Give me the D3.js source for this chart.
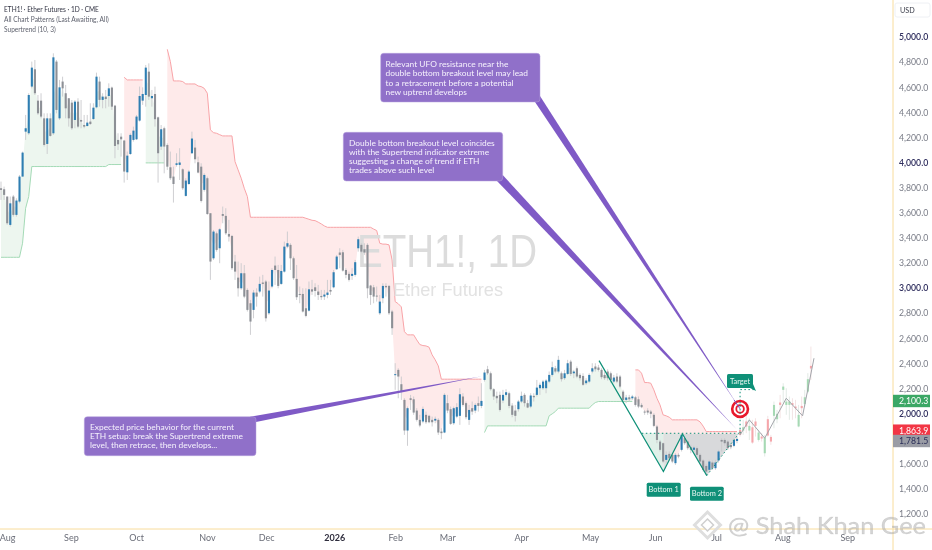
<!DOCTYPE html>
<html><head><meta charset="utf-8">
<script src="https://cdn.jsdelivr.net/npm/d3@7"></script>
<style>html,body{margin:0;padding:0;background:#fff;overflow:hidden}svg{display:block;filter:blur(.3px)}text{font-family:Lato,"Noto Sans",sans-serif}</style>
</head><body>
<svg id="c" width="932" height="550"></svg>
<script>
// ---------- DATA ----------
const barDirections="gggbgbbbbb"+"bggggbgbgb"+"ggggbgggbg"+"bbgbgbgggg"+"gbbbbbbbgb"+"ggbggggbbg"+"bbbgggbggb"+"gbggggggbg"+"ggbgbggbbg"+"gbbbgggggg"+"bggggbbgbb"+"ggggbbbggg"+"gggbbgggbg"+"ggbggggbgg"+"gbggbggbbb"+"ggbgbgbbgg"+"gggbbgggbb"+"ggbgbbbbbb"+"gbgbbgbggg"+"bbbggggggb"+"gggbgbgggg"+"ggggggbggb"+"gbgggbgggg"+"bgbbggggbb";
const bodyTops=[3795,3787,3729,3675,3729,3697,3888,4079,4273,4538,
4756,4743,4493,4493,4352,4352,4352,4838,4804,4599,
4645,4552,4512,4477,4485,4485,4339,4299,4318,4326,
4437,4684,4645,4525,4525,4591,4597,4453,4180,4206,
4175,4055,4220,4254,4366,4530,4546,4756,4724,4530,
4546,4360,4265,4273,4140,3962,3888,3994,4000,3946,
3856,3928,4191,4119,4002,3967,3901,3875,3596,3450,
3436,3468,3590,3575,3431,3415,3211,3083,3118,3118,
2985,2879,2964,2964,3033,3044,3052,2980,3144,3179,
3144,3136,3330,3357,3344,3237,3073,2953,2953,2839,
2990,2990,3006,2972,2937,2948,2964,2985,3126,3251,
3283,3285,3144,3113,3113,3206,3389,3344,3309,3344,
3020,3006,2940,2892,3017,3017,3017,2813,2314,2348,
2234,2109,2043,2122,2114,2024,1950,2037,1990,1982,
1950,1958,1950,1857,2149,2083,2035,2043,2051,2154,
2136,2083,2029,2043,2069,2083,2101,2327,2353,2321,
2194,2141,2149,2149,2170,2162,2064,2024,2096,2141,
2149,2083,2144,2141,2207,2229,2255,2263,2308,2369,
2361,2428,2321,2321,2401,2414,2335,2361,2308,2300,
2263,2308,2361,2375,2367,2348,2308,2335,2321,2287,
2295,2295,2175,2128,2130,2136,2130,2114,2069,2016,
2024,2016,1990,1897,1777,1764,1671,1679,1671,1671,
1671,1830,1804,1777,1732,1729,1724,1671,1626,1583,
1618,1610,1610,1698,1790,1790,1777,1751,1790,1798];
const bodyBottoms=[3782,3742,3516,3503,3583,3583,3689,3888,4246,4233,
4605,4552,4392,4366,4140,4148,4212,4233,4419,4352,
4591,4432,4352,4273,4339,4286,4326,4286,4291,4307,
4347,4440,4499,4499,4506,4530,4445,4132,4145,4185,
3928,3922,4068,4180,4185,4334,4493,4538,4525,4512,
4345,4074,4127,4127,3967,3875,3829,3981,3981,3795,
3734,3829,4074,4026,3920,3694,3782,3590,3211,3237,
3304,3317,3575,3436,3410,3158,3131,2998,2998,2932,
2826,2733,2826,2932,2972,3033,2759,2799,3012,3144,
3017,3033,3131,3330,3237,3078,2927,2945,2813,2778,
2820,2972,2977,2945,2927,2932,2945,2972,3006,3150,
3264,3139,3105,3065,3097,3105,3317,3290,3283,2998,
2945,2932,2932,2799,2919,3006,2799,2680,2306,2295,
2175,1865,1865,2109,2008,1950,1905,1937,1931,1931,
1931,1944,1849,1844,1849,2024,1918,1923,1976,1982,
2069,1971,1950,2016,2024,2061,2061,2268,2321,2194,
2136,2122,2029,2104,2149,2061,1990,1982,2035,2096,
2083,2048,2056,2130,2149,2202,2202,2202,2255,2308,
2335,2335,2274,2282,2316,2316,2321,2295,2282,2229,
2242,2255,2335,2353,2348,2290,2282,2282,2268,2255,
2255,2215,2109,2109,2114,2122,2069,2056,2051,2008,
2008,1998,1902,1790,1711,1618,1631,1644,1618,1605,
1658,1711,1764,1724,1711,1711,1671,1618,1552,1538,
1552,1565,1565,1626,1777,1764,1724,1732,1743,1782];
const wickHighs=[3848,3808,3729,3729,3742,3715,3901,4087,4379,4552,
4804,4817,4538,4552,4392,4392,4392,4870,4817,4658,
4684,4618,4512,4498,4498,4512,4498,4379,4379,4472,
4472,4716,4684,4552,4578,4631,4605,4459,4233,4233,
4180,4087,4233,4286,4379,4605,4599,4777,4790,4578,
4605,4366,4299,4286,4153,4087,3967,4074,4114,3954,
3875,3941,4246,4180,4047,3994,3914,3888,3596,3463,
3450,3476,3649,3636,3543,3423,3264,3211,3198,3184,
2998,2905,2985,2998,3091,3105,3065,3052,3158,3251,
3184,3184,3370,3450,3357,3251,3184,3012,2998,2998,
3052,3065,3038,3025,2985,2985,3065,3065,3144,3264,
3317,3304,3158,3131,3158,3224,3410,3357,3357,3357,
3025,3025,3012,2945,3038,3038,3025,2826,2401,2361,
2295,2122,2056,2149,2136,2043,1990,2056,2016,1990,
1976,1976,1963,1883,2162,2149,2056,2056,2083,2202,
2162,2096,2069,2096,2083,2136,2242,2348,2380,2335,
2202,2175,2175,2189,2194,2175,2083,2069,2109,2175,
2162,2109,2162,2162,2268,2247,2268,2274,2335,2414,
2380,2460,2335,2348,2428,2428,2348,2375,2321,2321,
2282,2321,2401,2401,2388,2361,2335,2353,2335,2308,
2321,2308,2189,2149,2149,2149,2141,2136,2083,2029,
2043,2029,2003,1910,1790,1769,1698,1698,1684,1684,
1684,1844,1817,1790,1751,1743,1737,1684,1637,1599,
1631,1626,1631,1711,1804,1804,1790,1764,1804,1817];
const wickLows=[3702,3702,3503,3490,3569,3569,3675,3888,4180,4220,
4591,4538,4379,4352,4127,4068,4206,4220,4392,4339,
4525,4352,4286,4260,4273,4273,4273,4273,4286,4299,
4339,4432,4445,4432,4432,4445,4419,4034,4100,4047,
3840,3861,4060,4167,4180,4326,4459,4445,4499,4445,
4286,3840,4100,3914,3941,3861,3681,3967,3861,3782,
3729,3821,4068,3994,3914,3681,3768,3583,3065,3224,
3290,3198,3516,3423,3370,3144,3065,2932,2985,2919,
2813,2627,2759,2852,2959,2932,2733,2786,2998,3025,
2998,3025,3123,3317,3144,3065,2905,2879,2805,2767,
2813,2945,2932,2905,2905,2905,2919,2945,2998,3144,
3158,3131,3078,3052,3065,3091,3290,3277,3264,2919,
2866,2879,2892,2786,2879,2932,2786,2627,2189,2122,
2109,1830,1743,2029,1990,1937,1891,1923,1918,1923,
1897,1923,1830,1796,1844,2003,1910,1910,1963,1910,
2056,1955,1910,1990,2003,2016,2043,2255,2308,2183,
2109,2083,2016,2083,2136,2043,1971,1937,2016,2083,
2056,2043,2043,2096,2136,2149,2189,2162,2242,2295,
2321,2321,2255,2268,2308,2300,2282,2282,2263,2221,
2229,2242,2321,2335,2335,2274,2268,2263,2247,2242,
2242,2202,2083,2083,2096,2109,2056,2043,2043,1990,
1990,1963,1891,1764,1698,1605,1605,1631,1605,1591,
1644,1698,1751,1711,1684,1698,1658,1605,1538,1512,
1538,1552,1552,1610,1698,1743,1711,1716,1732,1764];

// projected candles after the last real bar
const projectedTops=[1870,1891,1937,1902,1891,1937,1849,1817,1809,1955,1814,2069,1998,2088,2215,2096,2096,2083,2056,1990,2061,2130,2274,2380];
const projectedBottoms=[1830,1865,1897,1865,1769,1902,1790,1801,1684,1825,1777,1982,1955,2069,2189,2069,2069,2069,2043,1897,2043,2077,2175,2359];
const projectedHighs=[1891,1950,1990,1963,1950,1963,1870,1844,1830,1982,1830,2096,2029,2149,2242,2202,2136,2122,2109,2069,2136,2189,2322,2534];
const projectedLows=[1817,1830,1844,1790,1759,1817,1777,1777,1658,1817,1751,1883,1923,1963,2083,1990,1950,1950,1963,1891,1963,2056,2162,2268];
const projectedColors="rgrgrrgrgrrggrgggrrgrggr";

// supertrend segments: first bar, per-bar level
const stGreen1Start=0, stGreen1=[3245,3245,3245,3245,3245,3245,3245,3357,3636,3729,3968,3968,3968,3968,3968,3968,3968,3968,3968,3968,3968,3968,3968,3968,3968,3968,3968,3968,3968,3968,3968,3968,3968,3968,3968,3984,3984,3984,3984,3984];
const stRed1Start=40, stRed1=[4679,4658,4658,4658,4658,4658,4658];
const stGreen2Start=47, stGreen2=[3997,3997,3997,3997,3997,3997,3997];
const stRed2Start=54, stRed2=[4902,4804,4650,4650,4650,4645,4626,4626,4626,4626,4610,4605,4591,4552,4260,4238,4233,4222,4212,4212,4212,4212,4007,3941,3875,3795,3729,
3564,3564,3564,3564,3564,3564,3564,3564,3564,3564,3564,3564,3564,3564,3564,3564,3564,3564,3556,3548,3540,3537,3525,3511,3495,
3484,3484,3484,3484,3484,3484,3484,3484,3484,3484,3484,3484,3484,3484,3484,3470,3458,3357,3350,3350,3344,3224,2892,2875,2850,2653,2627,2627,2627,2587,2550,2542,2539,2529,2468,2428,2380,2274,
2274,2274,2274,2274,2274,2274,2274,2274,2274,2274,2274,2274,2274];
const stGreen3Start=157, stGreen3=[1849,1902,1902,1902,1902,1902,1902,1902,1902,1902,1902,1902,1902,1902,1902,1902,1902,1902,1902,1902,1902,1982,1998,2016,2043,2043,2043,2043,2043,2043,2043,2043,2043,2043,2043,2069,2088,2096,2096,2096,2096,2096,2096,2096,2096,2096,2096,2096,2096];
const stRed3Start=206, stRed3=[2348,2348,2322,2247,2247,2242,2189,2122,2069,1990,1982,1971,1950,1950,1950,1950,1950,1950,1950,1950,1950,1934,1900,1857,1857,1857,1857,1857,1857,1857,1857,1857,1857,1857];

// projected path and double-bottom pattern (bar index, price)
const projectionBars=[240,243,248,255,260.3,264], projectionPrices=[1830,1950,1804,2122,1982,2441];
const patternBars=[194.2,215.1,221.3,229.2,239.5], patternPrices=[2422,1538,1838,1506,1838];
const necklineBars=[208.1,239.6], necklinePrices=[1843,1843];
const targetBar=240, targetPrice=2037, targetTopPrice=2191, targetRightBar=245;

const priceTicks=[5000,4800,4600,4400,4200,4000,3800,3600,3400,3200,3000,2800,2600,2400,2200,2000,1600,1400,1200];
const majorTicks=[5000,4000,3000,2000];
const monthLabels=["Aug","Sep","Oct","Nov","Dec","2026","Feb","Mar","Apr","May","Jun","Jul","Aug","Sep"];
const monthBars=[2,22.7,43.9,66.9,86.1,108.2,128,144.9,168.9,191.3,212.4,232.2,253.7,274.8];
const priceTags=[["2,100.3",2100.3,"#3ba765","#ffffff"],["1,863.9",1863.9,"#f23645","#ffffff"],["1,781.5",1781.5,"#9a9ca5","#2a2e58"]];
const legendLines=["ETH1! · Ether Futures · 1D · CME","All Chart Patterns (Last Awaiting, All)","Supertrend (10, 3)"];
const callout1=["Relevant UFO resistance near the","double bottom breakout level may lead","to a retracement before a potential","new uptrend develops"];
const callout2=["Double bottom breakout level coincides","with the Supertrend indicator extreme","suggesting a change of trend if ETH","trades above such level"];
const callout3=["Expected price behavior for the current","ETH setup: break the Supertrend extreme","level, then retrace, then develops..."];

// ---------- SCALES ----------
const W=932,H=550,axisX=893,axisY=529;
const x=d3.scaleLinear().domain([0,239]).range([1,737]);
const y=d3.scaleLinear().domain([1200,5000]).range([514,37]);
const svg=d3.select("#c");

const bars=bodyTops.map((t,i)=>({i,top:t,bot:bodyBottoms[i],hi:wickHighs[i],lo:wickLows[i],up:barDirections[i]==="b"}));
const proj=projectedTops.map((t,k)=>({i:240+k,top:t,bot:projectedBottoms[k],hi:projectedHighs[k],lo:projectedLows[k],green:projectedColors[k]==="g"}));

// ---------- SUPERTREND ----------
const segs=[[stGreen1Start,stGreen1,"g"],[stRed1Start,stRed1,"r"],[stGreen2Start,stGreen2,"g"],[stRed2Start,stRed2,"r"],[stGreen3Start,stGreen3,"g"],[stRed3Start,stRed3,"r"]];
const area=d3.area().x(d=>x(d.i)).y0(d=>y(d.v)).y1(d=>y((bars[d.i].top+bars[d.i].bot)/2));
const line=d3.line().x(d=>x(d.i)).y(d=>y(d.v));
segs.forEach(([s,vals,c])=>{
  const pts=vals.map((v,k)=>({i:s+k,v}));
  svg.append("path").attr("d",area(pts)).attr("fill",c==="g"?"#edf6ef":"#feeaea");
  svg.append("path").attr("d",line(pts)).attr("fill","none").attr("stroke",c==="g"?"#a4dab6":"#f8a3a7").attr("stroke-width",1);
});

// ---------- WATERMARK (shows over the fills, under the candles) ----------
svg.append("text").attr("x",357).attr("y",267).attr("font-size",46).attr("fill","#dcdcdc")
  .attr("textLength",180).attr("lengthAdjust","spacingAndGlyphs").style("font-family","'Liberation Sans'").text("ETH1!, 1D");
svg.append("text").attr("x",393).attr("y",296).attr("font-size",19).attr("fill","#e2e2e2")
  .attr("textLength",110).attr("lengthAdjust","spacingAndGlyphs").style("font-family","'Liberation Sans'").text("Ether Futures");

// ---------- PATTERN FILLS ----------
const P=patternBars.map((b,k)=>[x(b),y(patternPrices[k])]);
const nY=y(necklinePrices[0]), nL=x(necklineBars[0]), nR=x(necklineBars[1]);
svg.append("path").attr("d",d3.line()([[nL,nY],P[1],[P[1][0],nY]])+"Z").attr("fill","#e0f0e9");
svg.append("path").attr("d",d3.line()([[P[1][0],nY],P[1],P[2]])+"Z").attr("fill","#dfe2e1");
svg.append("path").attr("d",d3.line()([P[2],P[3],P[4]])+"Z").attr("fill","#d8d9db");

// ---------- CANDLES ----------
const g=svg.append("g");
g.selectAll(".w").data(bars).join("line").attr("x1",d=>x(d.i)).attr("x2",d=>x(d.i)).attr("y1",d=>y(d.hi)).attr("y2",d=>y(d.lo)).attr("stroke","#c9cacd").attr("stroke-width",0.9);
g.selectAll(".b").data(bars).join("rect").attr("x",d=>x(d.i)-1).attr("width",2.1).attr("y",d=>y(d.top)).attr("height",d=>Math.max(1,y(d.bot)-y(d.top))).attr("fill",d=>d.up?"#2e7eb2":"#8d9096");
g.selectAll(".pw").data(proj).join("line").attr("x1",d=>x(d.i)).attr("x2",d=>x(d.i)).attr("y1",d=>y(d.hi)).attr("y2",d=>y(d.lo)).attr("stroke",d=>d.green?"#dfe8e2":"#f2e0e1").attr("stroke-width",0.9);
g.selectAll(".pb").data(proj).join("rect").attr("x",d=>x(d.i)-1).attr("width",2.1).attr("y",d=>y(d.top)).attr("height",d=>Math.max(1,y(d.bot)-y(d.top))).attr("fill",d=>d.green?"#a6d9b4":"#f5a6ab");

// ---------- PATTERN LINES ----------
const teal="#0f9078";
svg.append("path").attr("d",d3.line()(P.slice(0,4))).attr("fill","none").attr("stroke",teal).attr("stroke-width",1.2);
svg.append("path").attr("d",d3.line()([P[3],P[4]])).attr("fill","none").attr("stroke",teal).attr("stroke-width",1).attr("stroke-dasharray","1.5 2.5");
svg.append("line").attr("x1",nL).attr("x2",nR).attr("y1",nY).attr("y2",nY).attr("stroke",teal).attr("stroke-width",1).attr("stroke-dasharray","1.5 2.5");
svg.append("path").attr("d",d3.line()(projectionBars.map((b,k)=>[x(b),y(projectionPrices[k])]))).attr("fill","none").attr("stroke","#a2a4aa").attr("stroke-width",1);

// target
const tx=x(targetBar), ty=y(targetPrice), tTop=y(targetTopPrice);
svg.append("path").attr("d",`M${tx},${nY}V${tTop}H${x(targetRightBar)}`).attr("fill","none").attr("stroke",teal).attr("stroke-width",1).attr("stroke-dasharray","1.5 2.5");

// ---------- CALLOUTS ----------
const purple="#9070c9", tailC="#7f5ac6";
function callout(bx,by,bw,bh,base,tip,lines,tx0,ty0){
  svg.append("path").attr("d",d3.line()([base[0],tip,base[1]])+"Z").attr("fill",tailC);
  svg.append("rect").attr("x",bx).attr("y",by).attr("width",bw).attr("height",bh).attr("rx",3).attr("fill",purple).attr("stroke","#b6a2dc").attr("stroke-width",.5);
  lines.forEach((t,k)=>svg.append("text").attr("x",tx0).attr("y",ty0+k*9.25).attr("font-size",8.4).attr("fill","#f6f2fd").text(t));
}
callout(380.7,53.3,159.3,48.7,[[535,102],[540,96]],[x(240),y(2037)],callout1,385.5,67);
callout(343.3,132.3,159.4,48.7,[[497,181],[502.7,175]],[x(238.8),y(1878)],callout2,349,145.5);
callout(84.3,416.7,171.7,39,[[250,416.7],[256,422]],[x(156.1),y(2297)],callout3,90,429.7);

// bullseye (over the tail)
svg.append("circle").attr("cx",tx).attr("cy",ty).attr("r",7.9).attr("fill","#fff").attr("stroke","#e8192c").attr("stroke-width",2.6);
svg.append("circle").attr("cx",tx).attr("cy",ty).attr("r",3.8).attr("fill","#fff").attr("stroke","#e8192c").attr("stroke-width",1.8);
svg.append("line").attr("x1",tx).attr("x2",tx).attr("y1",ty-7).attr("y2",ty+7).attr("stroke",teal).attr("stroke-width",1).attr("stroke-dasharray","1.5 2");
svg.append("path").attr("d",`M${tx-6},${ty-9}L${tx},${ty}`).attr("stroke",tailC).attr("stroke-width",1);

// labels
function pill(x0,y0,w,h,t){
  svg.append("rect").attr("x",x0).attr("y",y0).attr("width",w).attr("height",h).attr("rx",1.5).attr("fill",teal);
  svg.append("text").attr("x",x0+w/2).attr("y",y0+h/2+2.6).attr("text-anchor","middle").attr("font-size",7.4).attr("fill","#e9f7f2").text(t);
}
svg.append("path").attr("d","M750,388L756,391L753,384Z").attr("fill",teal);
pill(727,374,26,14,"Target");
pill(646.7,482.7,34,14,"Bottom 1");
pill(690,486.7,33.7,14,"Bottom 2");

// ---------- AXES ----------
const yellow="#f8dc9c";
svg.append("line").attr("x1",axisX).attr("x2",axisX).attr("y1",0).attr("y2",H).attr("stroke",yellow).attr("stroke-width",1);
svg.append("line").attr("x1",0).attr("x2",W).attr("y1",axisY).attr("y2",axisY).attr("stroke",yellow).attr("stroke-width",1);
const ya=svg.append("g").attr("transform",`translate(${axisX},0)`).call(d3.axisRight(y).tickValues(priceTicks).tickSize(0).tickPadding(6).tickFormat(d3.format(",.1f")));
ya.select(".domain").remove();
ya.selectAll("text").attr("font-size",8.7).style("font-family","Lato").attr("fill",d=>majorTicks.includes(d)?"#2f2e5e":"#787b86").attr("font-weight",d=>majorTicks.includes(d)?600:400);
const xa=svg.append("g").attr("transform",`translate(0,${axisY})`).call(d3.axisBottom(x).tickValues(monthBars).tickSize(0).tickPadding(6).tickFormat((d,i)=>monthLabels[i]));
xa.select(".domain").remove();
xa.selectAll("text").attr("font-size",9).style("font-family","Lato").attr("fill",(d,i)=>monthLabels[i]==="2026"?"#2f2e3e":"#6a6d78").attr("font-weight",(d,i)=>monthLabels[i]==="2026"?700:400);
svg.append("rect").attr("x",895).attr("y",3).attr("width",35).attr("height",14).attr("rx",2).attr("fill","#fff").attr("stroke","#eef0f4");
svg.append("text").attr("x",900).attr("y",13).attr("font-size",7.2).attr("fill","#3a3d4a").text("USD");

priceTags.forEach(([t,p,bg,fg])=>{
  const yy=y(p);
  svg.append("rect").attr("x",axisX).attr("y",yy-6.2).attr("width",37).attr("height",12.4).attr("fill",bg);
  svg.append("text").attr("x",899).attr("y",yy+3).attr("font-size",8.7).attr("fill",fg).text(t);
});

// legend, narrowed to the reference's widths
const lgd=svg.append("g").attr("transform","translate(4,0) scale(.84,1)");
legendLines.forEach((t,k)=>{
  lgd.append("text").attr("x",0).attr("y",12+k*10).attr("font-size",7.8).attr("fill",k===0?"#2f3140":"#5f626e").text(t);
});

// brand watermark
const lg=svg.append("g").attr("transform","translate(707.5,525)");
lg.append("path").attr("d",d3.line()([[0,-13],[13,0],[0,13],[-13,0]])+"Z").attr("fill","none").attr("stroke","#dedede").attr("stroke-width",3);
lg.append("path").attr("d",d3.line()([[0,-6],[6,0],[0,6],[-6,0]])+"Z").attr("fill","#fff").attr("stroke","#cfcfcf").attr("stroke-width",1.5);
svg.append("text").attr("x",728).attr("y",534).attr("font-size",24).attr("fill","rgba(170,170,170,.5)").attr("stroke","rgba(150,150,150,.3)").attr("stroke-width",.4)
  .attr("textLength",198).attr("lengthAdjust","spacingAndGlyphs").text("@ Shah Khan Gee");
</script>
</body></html>
